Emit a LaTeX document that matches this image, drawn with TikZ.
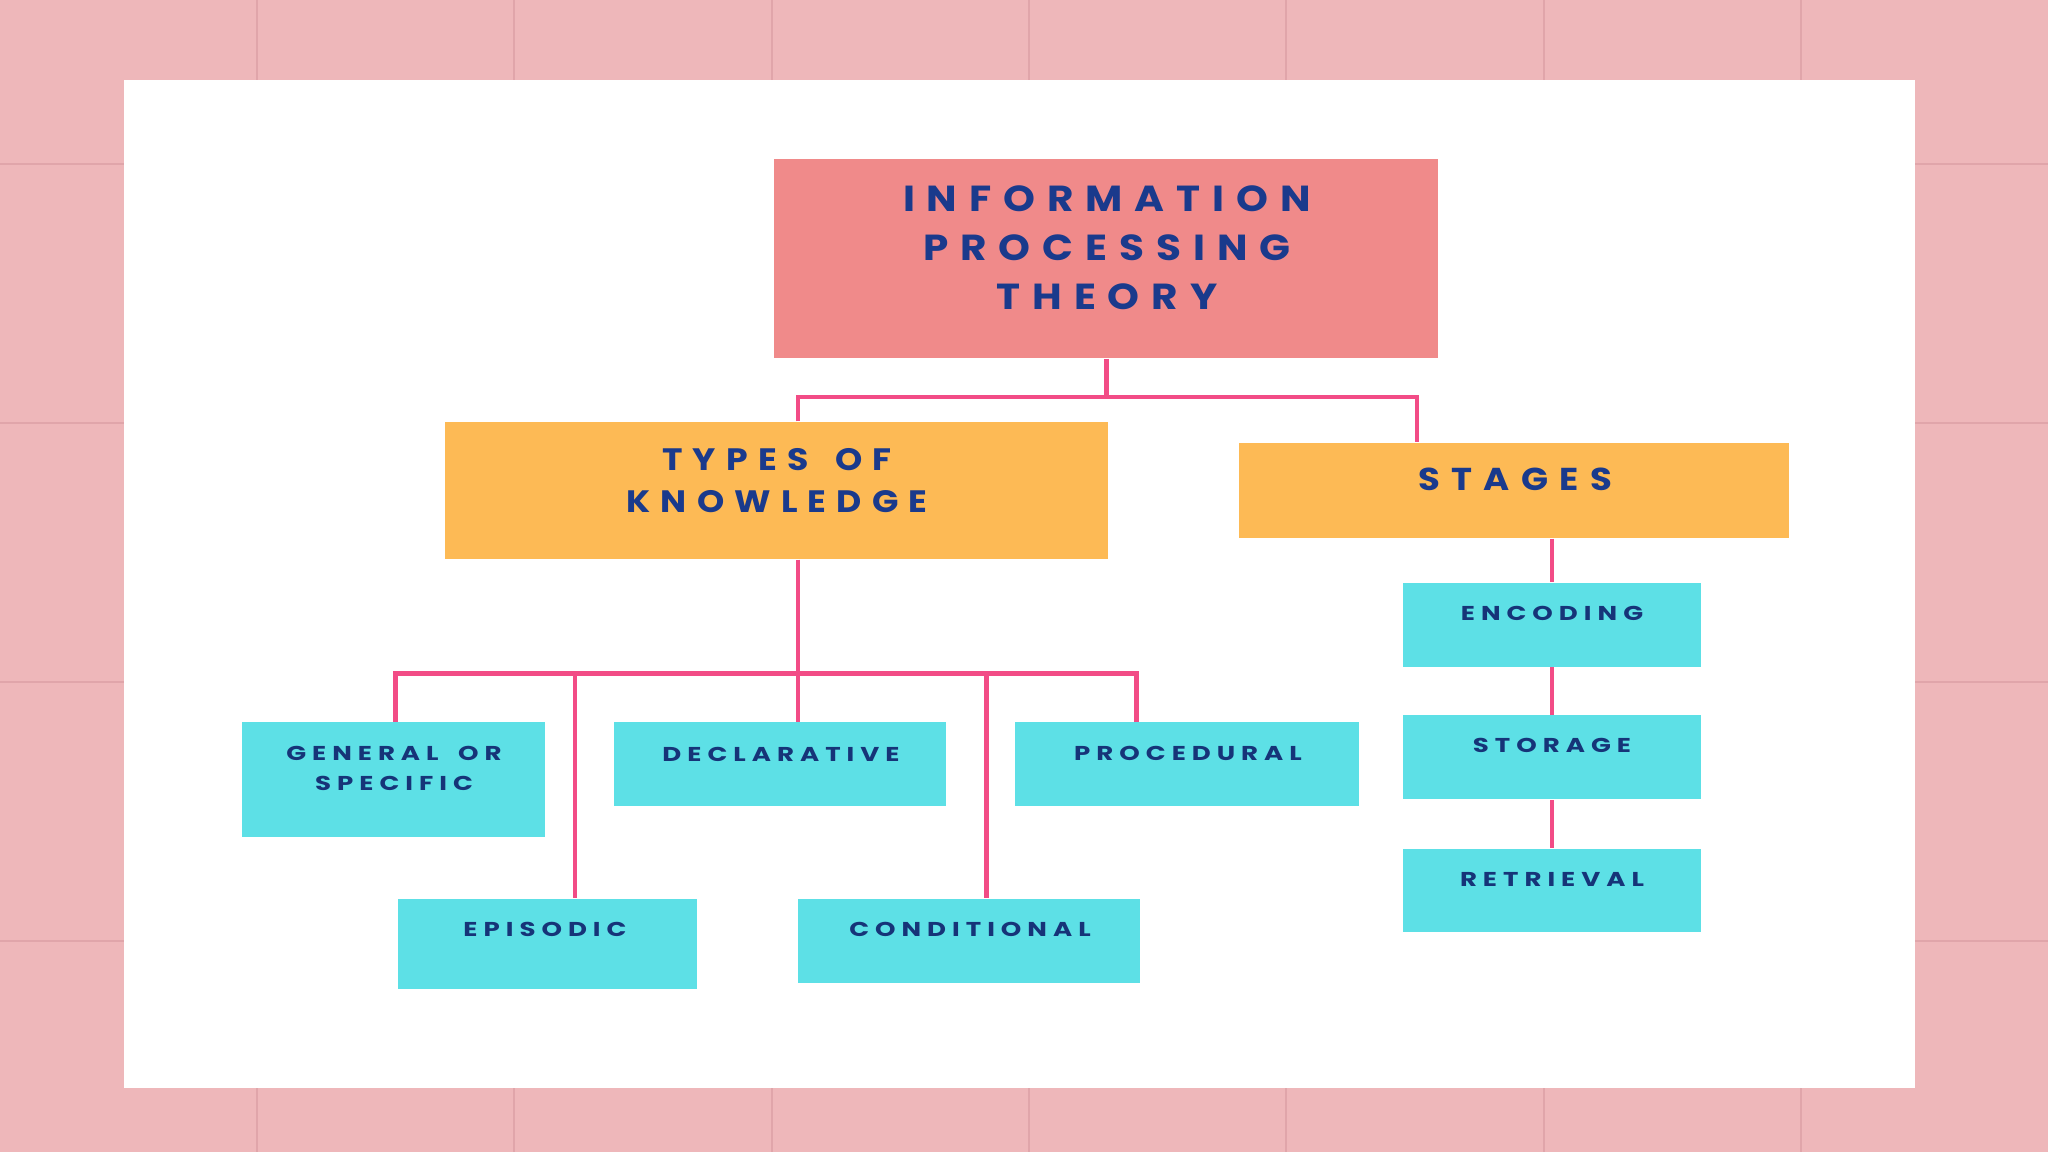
\documentclass[tikz,border=0pt]{standalone}
\usepackage{fontspec}
\setmainfont{Poppins}
\newfontfamily\bigfont{Poppins}[LetterSpace=33, FakeStretch=1.12]
\newfontfamily\stagefont{Poppins}[LetterSpace=36, FakeStretch=1.12]
\newfontfamily\smallfont{Poppins}[LetterSpace=30, FakeStretch=1.3]
\definecolor{bgpink}{HTML}{EEB7BA}
\definecolor{gridpink}{HTML}{E0A5AA}
\definecolor{titlered}{HTML}{F08A8A}
\definecolor{boxorange}{HTML}{FDBA55}
\definecolor{boxcyan}{HTML}{5DE0E6}
\definecolor{connpink}{HTML}{F24C86}
\definecolor{navy}{HTML}{1A3A8C}
\definecolor{navydark}{HTML}{163478}
\tikzset{
  box/.style={rectangle, inner sep=0pt, draw=none},
  titlebox/.style={box, fill=titlered},
  midbox/.style={box, fill=boxorange},
  leafbox/.style={box, fill=boxcyan},
  conn/.style={draw=connpink, line width=1.3pt},
  gridline/.style={draw=gridpink, line width=0.5pt},
  titletext/.style={anchor=base, align=center, inner sep=0pt, text=navy,
    font=\bigfont\bfseries\fontsize{10.3}{13.9}\selectfont},
  midtext/.style={anchor=base, align=center, inner sep=0pt, text=navy,
    font=\bigfont\bfseries\fontsize{8.8}{11.8}\selectfont},
  stagetext/.style={anchor=base, align=center, inner sep=0pt, text=navy,
    font=\stagefont\bfseries\fontsize{9.0}{11.8}\selectfont},
  leaftext/.style={anchor=base, align=center, inner sep=0pt, text=navydark,
    font=\smallfont\bfseries\fontsize{5.7}{8.25}\selectfont},
}
\begin{document}
\begin{tikzpicture}[x=0.01cm, y=-0.01cm]
\useasboundingbox (0,0) rectangle (2048,1152);
\fill[bgpink] (0,0) rectangle (2048,1152);
\foreach \gx in {257,514,772,1029,1286,1544,1801}
  \draw[gridline] (\gx,0) -- (\gx,1152);
\foreach \gy in {164,423,682,941}
  \draw[gridline] (0,\gy) -- (2048,\gy);
\fill[white] (124,80) rectangle (1915,1088);

% boxes
\node[titlebox, minimum width=6.635cm, minimum height=1.99cm] (title) at (1106.25,258.5) {};
\node[midbox, minimum width=6.625cm, minimum height=1.37cm] (types) at (776.25,490.5) {};
\node[midbox, minimum width=5.49cm, minimum height=0.95cm] (stages) at (1514,490.5) {};
\node[leafbox, minimum width=3.03cm, minimum height=1.145cm] (general) at (393.1,779.75) {};
\node[leafbox, minimum width=3.316cm, minimum height=0.835cm] (decl) at (779.8,764.25) {};
\node[leafbox, minimum width=3.443cm, minimum height=0.835cm] (proc) at (1186.85,764.25) {};
\node[leafbox, minimum width=2.987cm, minimum height=0.902cm] (epis) at (547.65,943.7) {};
\node[leafbox, minimum width=3.415cm, minimum height=0.839cm] (cond) at (968.75,940.55) {};
\node[leafbox, minimum width=2.98cm, minimum height=0.84cm] (enc) at (1551.7,624.7) {};
\node[leafbox, minimum width=2.98cm, minimum height=0.84cm] (stor) at (1551.7,757.3) {};
\node[leafbox, minimum width=2.98cm, minimum height=0.83cm] (retr) at (1551.7,890.2) {};

% texts (base anchor = baseline of the last line)
\node[titletext] (titleT) at (1107,309.5) {INFORMATION\\PROCESSING\\THEORY};
\node[midtext] (typesT) at (777,512) {TYPES \hspace{0.3em}OF\\KNOWLEDGE};
\node[stagetext] (stagesT) at (1515,491) {STAGES};
\node[leaftext] (generalT) at (394,790) {GENERAL \hspace{0.4em}OR\\SPECIFIC};
\node[leaftext] (declT) at (781,761) {DECLARATIVE};
\node[leaftext] (procT) at (1188,760) {PROCEDURAL};
\node[leaftext] (episT) at (545,936) {EPISODIC};
\node[leaftext] (condT) at (970,936) {CONDITIONAL};
\node[leaftext] (encT) at (1552,620) {ENCODING};
\node[leaftext] (storT) at (1552,752) {STORAGE};
\node[leaftext] (retrT) at (1552,886) {RETRIEVAL};

% connectors
\coordinate (bA) at (798,397);
\coordinate (bB) at (1417,397);
\draw[conn] (title.south) -- (title.south |- bA);
\draw[conn] (types.north -| bA) -- (bA) -- (bB) -- (stages.north -| bB);

\coordinate (kL) at (395.5,673.5);
\coordinate (kE) at (575,673.5);
\coordinate (kM) at (798,673.5);
\coordinate (kC) at (986.5,673.5);
\coordinate (kR) at (1136.5,673.5);
\draw[conn] (types.south -| kM) -- (kM);
\draw[conn] (general.north -| kL) -- (kL) -- (kR) -- (proc.north -| kR);
\draw[conn] (kE) -- (epis.north -| kE);
\draw[conn] (kM) -- (decl.north -| kM);
\draw[conn] (kC) -- (cond.north -| kC);

\coordinate (sx) at (1552,0);
\draw[conn] (stages.south -| sx) -- (enc.north -| sx);
\draw[conn] (enc.south -| sx) -- (stor.north -| sx);
\draw[conn] (stor.south -| sx) -- (retr.north -| sx);
\end{tikzpicture}
\end{document}
